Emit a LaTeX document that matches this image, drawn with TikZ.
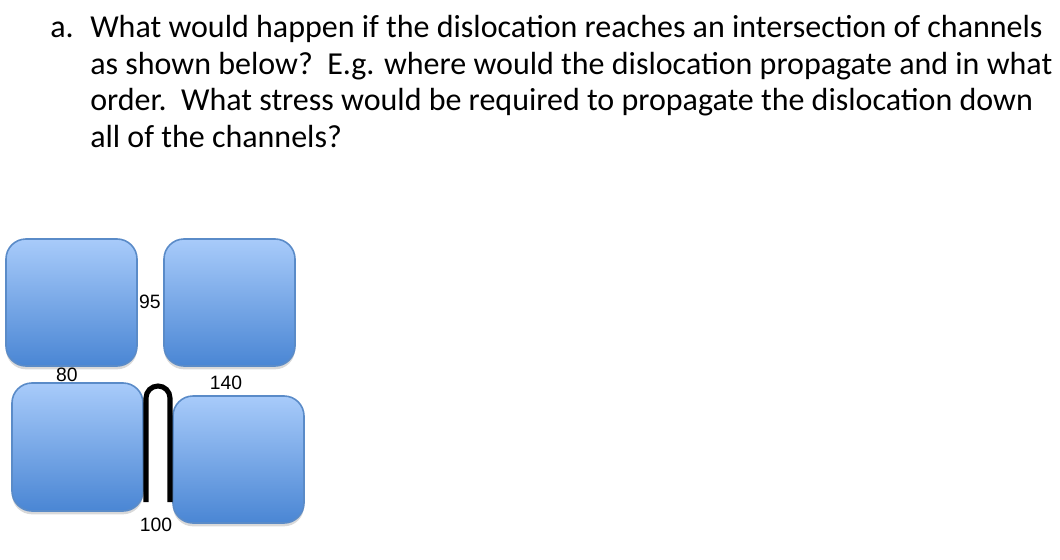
\documentclass[tikz,border=0pt]{standalone}
\usepackage{fontspec}
\setmainfont{Carlito}
\newfontfamily\labelfont{Liberation Sans}
\usetikzlibrary{shadows}
\tikzset{
  block/.style={rounded corners=15pt, draw=blockedge, line width=1.2pt,
    top color=blocktop, bottom color=blockbot,
    drop shadow={opacity=0.3, shadow xshift=0pt, shadow yshift=-2.5pt}},
  dimlabel/.style={font=\labelfont\fontsize{14.5}{16}\selectfont, inner sep=0pt},
  qline/.style={anchor=base west, inner sep=0pt, font=\fontsize{24}{28}\selectfont},
  hairpin/.style={line width=3.8pt, black}
}
\definecolor{blockedge}{HTML}{5A8BC8}
\definecolor{blocktop}{HTML}{A8CBFA}
\definecolor{blockbot}{HTML}{4A86D4}
\begin{document}
\begin{tikzpicture}[x=0.75pt,y=-0.75pt]
\useasboundingbox (0,0) rectangle (1060,560);
% question text
\node[qline] (qa) at (50,38) {a.};
\node[qline] (q1) at (90,38) {What would happen if the dislocation reaches an intersection of channels};
\node[qline] (q2) at (90,74.3) {as shown below?\ \ E.g. where would the dislocation propagate and in what};
\node[qline] (q3) at (90,110.6) {order.\ \ What stress would be required to propagate the dislocation down};
\node[qline] (q4) at (90,147) {all of the channels?};
% blocks
\path[block] (6,239) rectangle (137,366);
\node (tl) at (71.5,302.5) {};
\path[block] (164,239) rectangle (295,366);
\node (tr) at (229.5,302.5) {};
\path[block] (12,383) rectangle (143,511);
\node (bl) at (77.5,447) {};
\path[block] (173,396) rectangle (304,523);
\node (br) at (238.5,459.5) {};
% hairpin dislocation
\coordinate (hl) at (146,502);
\coordinate (hr) at (170,502);
\draw[hairpin] (hl) -- (146,398) arc[start angle=180, end angle=360, radius=12] -- (hr);
% labels
\node[dimlabel] (l95) at (150,302) {95};
\node[dimlabel] (l80) at (67,375) {80};
\node[dimlabel] (l140) at (226,383) {140};
\node[dimlabel] (l100) at (156,525) {100};
\end{tikzpicture}
\end{document}
